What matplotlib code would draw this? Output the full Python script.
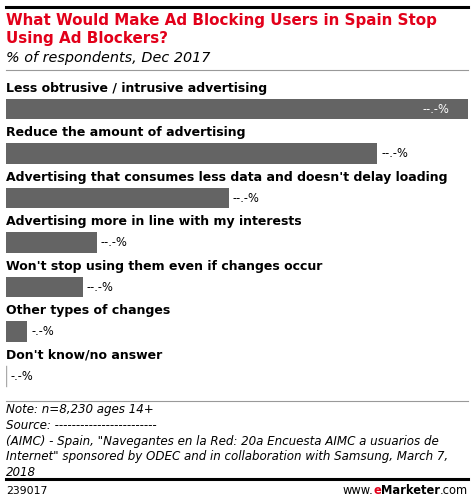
import matplotlib.pyplot as plt
from matplotlib.lines import Line2D

# data
labels = [
    "Less obtrusive / intrusive advertising",
    "Reduce the amount of advertising",
    "Advertising that consumes less data and doesn't delay loading",
    "Advertising more in line with my interests",
    "Won't stop using them even if changes occur",
    "Other types of changes",
    "Don't know/no answer",
]
values = [43.3, 34.8, 20.9, 8.5, 7.2, 2.0, 0.1]
value_labels = ["--.-%", "--.-%", "--.-%", "--.-%", "--.-%", "-.-%", "-.-%"]

W, H = 474, 500
fig = plt.figure(figsize=(W / 100, H / 100), dpi=100)

def fx(px):
    return px / W

def fy(py):
    return 1 - py / H

# horizontal rules
def rule(y, lw, color):
    fig.add_artist(Line2D([fx(6), fx(468)], [fy(y), fy(y)], lw=lw, color=color,
                          transform=fig.transFigure))

rule(7, 2.2, "black")
rule(70, 0.8, "#999999")
rule(401, 0.8, "#999999")
rule(479, 2.2, "black")

red = "#e2001a"
fig.text(fx(6), fy(20), "What Would Make Ad Blocking Users in Spain Stop",
         color=red, fontsize=10.9, fontweight="bold", va="center")
fig.text(fx(6), fy(39), "Using Ad Blockers?",
         color=red, fontsize=10.9, fontweight="bold", va="center")
fig.text(fx(6), fy(58), "% of respondents, Dec 2017",
         fontsize=10.4, style="italic", va="center")

# bars
ax = fig.add_axes([fx(6), fy(398), fx(462), (398 - 76) / H])
rows = list(range(len(values)))
ax.barh(rows, values, height=0.47, color="#646464")
ax.set_xlim(0, values[0])
ax.set_ylim(6.494, -0.742)
ax.axis("off")

for i, (lab, v, vl) in enumerate(zip(labels, values, value_labels)):
    ax.text(0, i - 0.47, lab, fontsize=9.0, fontweight="bold", va="center", ha="left")
    if i == 0:
        ax.text(v - values[0] * 0.04, i, vl, color="white", fontsize=8.3,
                va="center", ha="right")
    else:
        ax.text(v + values[0] * 0.008, i, vl, color="black", fontsize=8.3,
                va="center", ha="left")
    if v < 0.5:
        ax.plot([0, 0], [i - 0.235, i + 0.235], color="#aaaaaa", lw=1)

# notes
notes = [
    "Note: n=8,230 ages 14+",
    "Source: ------------------------",
    "(AIMC) - Spain, \"Navegantes en la Red: 20a Encuesta AIMC a usuarios de",
    "Internet\" sponsored by ODEC and in collaboration with Samsung, March 7,",
    "2018",
]
for k, line in enumerate(notes):
    fig.text(fx(6), fy(410 + 15.5 * k), line, fontsize=8.6, style="italic", va="center")

fig.text(fx(6), fy(491), "239017", fontsize=7.8, va="center")

# footer "www.eMarketer.com", right aligned, built from pieces
renderer = fig.canvas.get_renderer()
x = fx(468)
for piece, weight, color in [(".com", "normal", "black"), ("Marketer", "bold", "black"),
                             ("e", "bold", red), ("www.", "normal", "black")]:
    t = fig.text(x, fy(491), piece, fontsize=8.3, fontweight=weight, color=color,
                 va="center", ha="right")
    bb = t.get_window_extent(renderer=renderer)
    x = bb.x0 / W

fig.savefig("out.png", dpi=100)
